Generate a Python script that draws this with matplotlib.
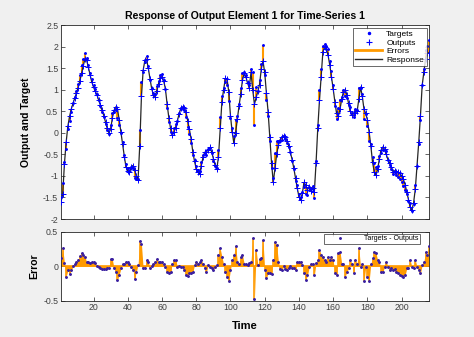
import numpy as np
import matplotlib
matplotlib.use('Agg')
import matplotlib.pyplot as plt

plt.rcParams['font.family'] = ['Liberation Sans', 'DejaVu Sans']

# network outputs, time steps 1..216
outputs = [
    -1.60, -1.42, -0.72, -0.22, 0.15, 0.38, 0.55, 0.68, 0.80, 0.92,
    1.05, 1.20, 1.38, 1.55, 1.72, 1.68, 1.52, 1.34, 1.18, 1.06,
    0.96, 0.88, 0.76, 0.64, 0.52, 0.40, 0.25, 0.10, 0.00, 0.08,
    0.35, 0.52, 0.60, 0.55, 0.30, 0.02, -0.25, -0.55, -0.80, -0.88,
    -0.92, -0.80, -0.76, -0.86, -1.00, -1.10, -0.30, 0.85, 1.45, 1.68,
    1.70, 1.50, 1.25, 1.02, 0.88, 0.84, 0.98, 1.14, 1.27, 1.30,
    1.20, 1.02, 0.66, 0.35, 0.10, -0.04, 0.02, 0.12, 0.28, 0.44,
    0.57, 0.60, 0.58, 0.48, 0.28, 0.08, -0.14, -0.44, -0.66, -0.83,
    -0.91, -0.95, -0.76, -0.56, -0.45, -0.44, -0.40, -0.34, -0.44, -0.60,
    -0.75, -0.84, -0.56, 0.10, 0.72, 1.00, 1.26, 1.25, 0.95, 0.40,
    0.02, -0.24, 0.00, 0.32, 0.62, 0.90, 1.22, 1.38, 1.30, 1.15,
    1.05, 1.40, 1.00, 0.66, 0.82, 0.96, 1.12, 1.48, 1.66, 1.40,
    0.92, 0.48, -0.10, -0.70, -1.15, -0.82, -0.50, -0.28, -0.16, -0.10,
    -0.07, -0.10, -0.18, -0.30, -0.45, -0.62, -0.82, -1.05, -1.28, -1.48,
    -1.56, -1.40, -1.15, -1.22, -1.32, -1.25, -1.34, -1.28, -1.38, -0.70,
    0.10, 0.75, 1.30, 1.88, 1.98, 1.95, 1.80, 1.58, 1.30, 1.02,
    0.72, 0.45, 0.38, 0.55, 0.78, 0.95, 1.00, 0.88, 0.68, 0.50,
    0.42, 0.46, 0.46, 0.50, 0.78, 1.06, 0.85, 0.55, 0.45, 0.30,
    0.02, -0.30, -0.68, -0.90, -0.98, -0.85, -0.60, -0.40, -0.33, -0.38,
    -0.50, -0.62, -0.70, -0.80, -0.90, -0.88, -0.90, -0.92, -0.94, -1.00,
    -1.08, -1.20, -1.38, -1.55, -1.72, -1.80, -1.62, -1.30, -0.76, -0.22,
    0.40, 1.10, 1.42, 1.72, 1.84, 1.86,
]

# targets - outputs
errors = [
    0.12, 0.26, 0.05, -0.15, -0.06, -0.11, -0.06, 0.00, 0.03, 0.06,
    0.09, 0.15, 0.19, 0.17, 0.14, 0.06, 0.06, 0.05, 0.06, 0.06,
    0.05, 0.01, -0.01, -0.03, -0.04, -0.04, -0.04, -0.03, -0.03, 0.10,
    0.10, -0.03, -0.08, -0.20, -0.12, -0.03, 0.03, 0.04, 0.07, 0.06,
    0.04, -0.01, -0.05, -0.18, -0.08, 0.02, 0.37, 0.32, -0.03, -0.03,
    0.09, 0.06, -0.03, 0.01, 0.04, 0.06, 0.10, 0.07, 0.06, 0.06,
    0.03, -0.01, -0.08, -0.10, -0.08, 0.04, 0.09, 0.09, -0.01, 0.01,
    -0.01, -0.01, -0.06, -0.12, -0.14, -0.10, -0.10, -0.08, 0.02, 0.06,
    0.04, 0.06, 0.09, 0.04, -0.03, -0.08, 0.02, -0.01, -0.03, -0.05,
    -0.01, 0.02, 0.16, 0.26, 0.14, 0.03, -0.08, -0.15, -0.21, -0.05,
    0.09, 0.17, 0.29, 0.07, 0.04, 0.14, 0.17, 0.04, 0.04, 0.02,
    0.05, 0.07, 0.41, -0.47, 0.24, 0.02, 0.10, 0.12, 0.38, -0.05,
    -0.17, -0.10, -0.10, -0.11, 0.09, 0.36, 0.31, 0.07, -0.04, -0.06,
    0.00, -0.04, -0.05, -0.03, 0.00, -0.03, -0.03, -0.06, 0.07, 0.07,
    0.07, 0.02, -0.10, -0.20, -0.13, -0.01, 0.04, 0.04, -0.13, 0.05,
    0.09, 0.24, 0.17, 0.14, 0.09, 0.07, 0.14, 0.09, 0.14, 0.09,
    -0.10, -0.13, 0.19, 0.21, 0.04, 0.04, -0.15, -0.08, -0.03, 0.09,
    0.04, -0.10, 0.09, 0.04, 0.26, -0.01, 0.04, -0.22, -0.01, -0.15,
    -0.22, 0.04, 0.12, 0.21, 0.19, 0.09, 0.07, -0.08, -0.08, -0.01,
    0.07, -0.01, -0.05, -0.03, -0.05, -0.04, -0.08, -0.10, -0.13, -0.14,
    -0.15, -0.13, -0.03, -0.03, 0.09, -0.01, -0.03, 0.09, -0.01, -0.05,
    -0.10, 0.02, 0.07, 0.21, 0.17, 0.29,
]

outputs = np.array(outputs)
errors = np.array(errors)
targets = outputs + errors
t = np.arange(1, len(outputs) + 1)

ORANGE = '#ff9a00'
BLUE = '#0000ff'
tick_col = '#262626'

fig = plt.figure(figsize=(4.74, 3.37), dpi=100, facecolor='#f0f0f0')
ax1 = fig.add_axes([0.1287, 0.3501, 0.7764, 0.5757])
ax2 = fig.add_axes([0.1287, 0.1077, 0.7764, 0.2039])

# upper plot
ax1.vlines(t, outputs, targets, color=ORANGE, lw=1.5, zorder=2)
ax1.plot(t, outputs, color='#262626', lw=0.9, zorder=3)
ax1.plot(t, targets, '.', color=BLUE, ms=2.2, zorder=4)
ax1.plot(t, outputs, '+', color=BLUE, ms=4, mew=0.7, zorder=5)
ax1.plot([], [], '.', color=BLUE, ms=3, label='Targets')
ax1.plot([], [], '+', color=BLUE, ms=5, mew=0.8, label='Outputs')
ax1.plot([], [], color=ORANGE, lw=2, label='Errors')
ax1.plot([], [], color='#262626', lw=1, label='Response')
ax1.set_xlim(1, 216)
ax1.set_ylim(-2, 2.5)
ax1.set_yticks(np.arange(-2, 2.51, 0.5))
ax1.set_yticklabels(['-2', '-1.5', '-1', '-0.5', '0', '0.5', '1', '1.5', '2', '2.5'])
ax1.set_xticks(np.arange(20, 201, 20))
ax1.set_xticklabels([])
ax1.set_title('Response of Output Element 1 for Time-Series 1', fontsize=7.6,
              fontweight='bold', pad=4)
ax1.set_ylabel('Output and Target', fontsize=7.5, fontweight='bold')
ax1.yaxis.set_label_coords(-0.082, 0.5)
leg = ax1.legend(loc='upper right', fontsize=6, frameon=True, fancybox=False,
                 edgecolor='#262626', handlelength=3.2, borderpad=0.3,
                 labelspacing=0.1, handletextpad=0.5, borderaxespad=0.3)
leg.get_frame().set_linewidth(0.6)

# lower plot
ax2.axhline(0, color=ORANGE, lw=1.2, zorder=1)
ax2.fill_between(t, 0, errors, color=ORANGE, lw=0, zorder=2)
ax2.vlines(t, 0, errors, color=ORANGE, lw=1.2, zorder=2)
ax2.plot(t, errors, '.', color='#3a1fa0', ms=2.2, zorder=4, label='Targets - Outputs')
ax2.set_xlim(1, 216)
ax2.set_ylim(-0.5, 0.5)
ax2.set_yticks([-0.5, 0, 0.5])
ax2.set_yticklabels(['-0.5', '0', '0.5'])
ax2.set_xticks(np.arange(20, 201, 20))
ax2.set_ylabel('Error', fontsize=7.5, fontweight='bold')
ax2.yaxis.set_label_coords(-0.06, 0.5)
ax2.set_xlabel('Time', fontsize=8, fontweight='bold', labelpad=6)
leg2 = ax2.legend(loc='upper right', fontsize=5, frameon=True, fancybox=False,
                  edgecolor='#262626', handlelength=4, borderpad=0.2,
                  handletextpad=1.5, borderaxespad=0.25,
                  bbox_to_anchor=(0.98, 1.0))
leg2.get_frame().set_linewidth(0.6)

for ax in (ax1, ax2):
    ax.set_facecolor('white')
    ax.tick_params(direction='in', top=True, right=True, length=3, width=0.5,
                   labelsize=6.3, colors=tick_col, labelcolor='#404040', pad=2)
    for s in ax.spines.values():
        s.set_linewidth(0.6)
        s.set_color(tick_col)

fig.savefig('out.png', dpi=100, facecolor=fig.get_facecolor())
